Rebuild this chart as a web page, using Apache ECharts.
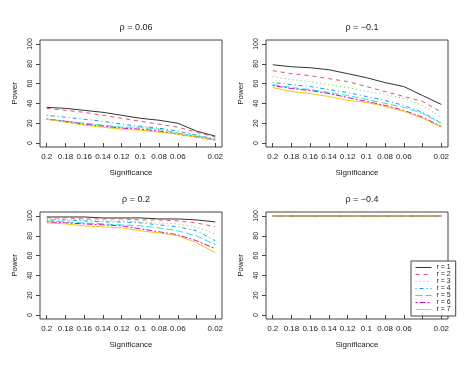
<!DOCTYPE html>
<html><head><meta charset="utf-8">
<script src="https://cdn.jsdelivr.net/npm/echarts@6/dist/echarts.min.js"></script>
<style>html,body{margin:0;padding:0;background:#fff}#c{width:474px;height:366px}</style>
</head><body><div id="c"></div>
<script>
const significance = [0.2, 0.18, 0.16, 0.14, 0.12, 0.1, 0.08, 0.06, 0.04, 0.02];
const xTickLabels = [0.2, 0.18, 0.16, 0.14, 0.12, 0.1, 0.08, 0.06, 0.02];
const yTicks = [0, 20, 40, 60, 80, 100];
const rNames = ['r = 1', 'r = 2', 'r = 3', 'r = 4', 'r = 5', 'r = 6', 'r = 7'];
const panelTitles = ['\u03c1 = 0.06', '\u03c1 = \u22120.1', '\u03c1 = 0.2', '\u03c1 = \u22120.4'];

// panel 1: rho = 0.06
const p1_r1 = [36, 35, 33, 31, 28, 25, 23, 20, 12, 7];
const p1_r2 = [35, 33, 31, 28, 25, 22, 19, 16, 11, 6];
const p1_r3 = [25, 22, 20, 18, 16, 15, 13, 10, 7, 4];
const p1_r4 = [28, 26, 24, 22, 19, 17, 15, 12, 8, 4];
const p1_r5 = [24, 22, 20, 18, 16, 16, 14, 10, 7, 4];
const p1_r6 = [24, 22, 19, 17, 15, 14, 12, 9, 6, 3];
const p1_r7 = [24, 21, 18, 16, 14, 13, 11, 9, 6, 3];
// panel 2: rho = -0.1
const p2_r1 = [79, 77, 76, 74, 70, 66, 61, 57, 48, 39];
const p2_r2 = [73, 70, 68, 65, 62, 57, 52, 47, 42, 31];
const p2_r3 = [67, 64, 62, 59, 56, 52, 49, 45, 38, 26];
const p2_r4 = [61, 59, 57, 54, 51, 47, 43, 38, 31, 20];
const p2_r5 = [59, 56, 54, 51, 48, 44, 40, 36, 30, 20];
const p2_r6 = [58, 55, 53, 50, 46, 42, 38, 33, 26, 17];
const p2_r7 = [56, 52, 50, 47, 43, 41, 37, 32, 25, 16];
// panel 3: rho = 0.2
const p3_r1 = [99, 99, 99, 98, 98, 98, 97, 97, 96, 94];
const p3_r2 = [98, 98, 97, 97, 97, 96, 96, 95, 93, 89];
const p3_r3 = [97, 96, 96, 95, 95, 94, 93, 92, 89, 82];
const p3_r4 = [96, 96, 95, 94, 94, 93, 91, 89, 85, 75];
const p3_r5 = [95, 94, 93, 92, 91, 90, 88, 85, 80, 71];
const p3_r6 = [94, 93, 92, 91, 90, 87, 84, 81, 75, 67];
const p3_r7 = [93, 92, 90, 89, 88, 85, 83, 80, 73, 63];
// panel 4: rho = -0.4
const p4_r1 = [100, 100, 100, 100, 100, 100, 100, 100, 100, 100];
const p4_r2 = [100, 100, 100, 100, 100, 100, 100, 100, 100, 100];
const p4_r3 = [100, 100, 100, 100, 100, 100, 100, 100, 100, 100];
const p4_r4 = [100, 100, 100, 100, 100, 100, 100, 100, 100, 100];
const p4_r5 = [100, 100, 100, 100, 100, 100, 100, 100, 100, 100];
const p4_r6 = [100, 100, 100, 100, 100, 100, 100, 100, 100, 100];
const p4_r7 = [100, 100, 100, 100, 100, 100, 100, 100, 100, 100];

const panels = [
  [p1_r1, p1_r2, p1_r3, p1_r4, p1_r5, p1_r6, p1_r7],
  [p2_r1, p2_r2, p2_r3, p2_r4, p2_r5, p2_r6, p2_r7],
  [p3_r1, p3_r2, p3_r3, p3_r4, p3_r5, p3_r6, p3_r7],
  [p4_r1, p4_r2, p4_r3, p4_r4, p4_r5, p4_r6, p4_r7]
];

const colors = ['#333333', '#DF536B', '#61D04F', '#2297E6', '#28E2E5', '#CD0BBC', '#F5C710'];
const dashes = ['solid', [4, 4], [1, 3], [1, 3, 4, 3], [7, 3], [2, 2, 6, 2], 'solid'];

const FONT = 'Liberation Sans, Arial, sans-serif';
const grids = [
  {left: 40, top: 40, width: 182, height: 107},
  {left: 266, top: 40, width: 182, height: 107},
  {left: 40, top: 212, width: 182, height: 107},
  {left: 266, top: 212, width: 182, height: 107}
];
const titleCenters = [[131, 18], [357, 18], [131, 190], [357, 190]];

const fmt = v => String(+(+v).toFixed(2));
const option = {
  animation: false,
  backgroundColor: '#fff',
  title: panelTitles.map((t, i) => ({
    text: t, left: titleCenters[i][0], top: titleCenters[i][1], textAlign: 'center',
    textStyle: {fontFamily: FONT, fontSize: 9, fontWeight: 'normal', color: '#222'}
  })),
  grid: grids.map(g => Object.assign({show: true, borderColor: '#444', borderWidth: 1, backgroundColor: 'transparent'}, g)),
  xAxis: grids.map((g, i) => ({
    type: 'value', gridIndex: i, inverse: true, min: 0.0128, max: 0.2072,
    name: 'Significance', nameLocation: 'middle', nameGap: 22,
    nameTextStyle: {fontFamily: FONT, fontSize: 8, color: '#222'},
    axisLine: {show: false}, splitLine: {show: false},
    axisTick: {show: true, length: 4, lineStyle: {color: '#444'}, customValues: significance},
    axisLabel: {fontFamily: FONT, fontSize: 8, color: '#222', margin: 6, customValues: xTickLabels, formatter: fmt}
  })),
  yAxis: grids.map((g, i) => ({
    type: 'value', gridIndex: i, min: -4, max: 104,
    name: 'Power', nameLocation: 'middle', nameGap: 21, nameRotate: 90,
    nameTextStyle: {fontFamily: FONT, fontSize: 8, color: '#222'},
    axisLine: {show: false}, splitLine: {show: false},
    axisTick: {show: true, length: 4, lineStyle: {color: '#444'}, customValues: yTicks},
    axisLabel: {fontFamily: FONT, fontSize: 7, color: '#222', rotate: 90, margin: 6, customValues: yTicks}
  })),
  legend: {
    show: true, left: 411, top: 261, orient: 'vertical', itemGap: 0, itemWidth: 16, itemHeight: 8,
    padding: [3, 5, 3, 4], borderColor: '#444', borderWidth: 1, borderRadius: 0, backgroundColor: '#fff',
    textStyle: {fontFamily: FONT, fontSize: 7, color: '#222'},
    itemStyle: {opacity: 0, borderWidth: 0},
    lineStyle: {width: 1},
    data: rNames
  },
  series: []
};

panels.forEach((rows, p) => {
  rows.forEach((vals, r) => {
    option.series.push({
      type: 'line', name: rNames[r], xAxisIndex: p, yAxisIndex: p,
      data: significance.map((s, k) => [s, vals[k]]),
      symbol: 'none',
      itemStyle: {color: colors[r]},
      lineStyle: {color: colors[r], width: 1, type: dashes[r]}
    });
  });
});

const chart = echarts.init(document.getElementById('c'), null, {renderer: 'canvas'});
chart.setOption(option);
</script>
</body></html>
